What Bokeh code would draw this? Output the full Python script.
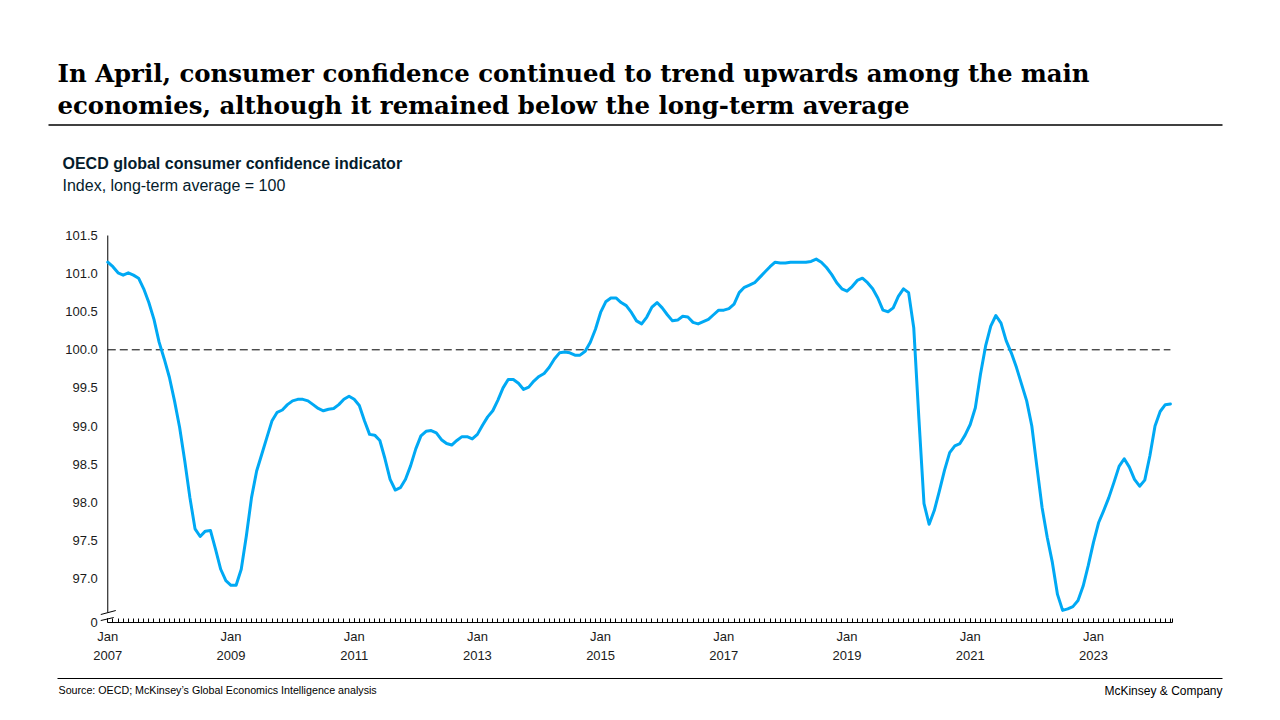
from bokeh.plotting import figure
from bokeh.models import Range1d, FixedTicker, NumeralTickFormatter
from bokeh.embed import file_html
from bokeh.resources import INLINE
from bokeh.core.properties import value

# ---------------- data ----------------
title_lines = [
    "In April, consumer confidence continued to trend upwards among the main",
    "economies, although it remained below the long-term average",
]
subtitle = "OECD global consumer confidence indicator"
unit_text = "Index,  long-term  average = 100"
source_text = "Source: OECD;  McKinsey\u2019s Global Economics Intelligence analysis"
brand_text = "McKinsey & Company"

start_year = 2007  # monthly, Jan 2007 .. Apr 2024
cci = [
    101.15, 101.09, 101.01, 100.98, 101.01, 100.98, 100.94, 100.80, 100.62, 100.40,
    100.10, 99.88, 99.64, 99.33, 98.98, 98.54, 98.06, 97.65, 97.55, 97.62,
    97.63, 97.38, 97.12, 96.97, 96.91, 96.91, 97.12, 97.56, 98.06, 98.41,
    98.63, 98.85, 99.07, 99.18, 99.21, 99.28, 99.33, 99.35, 99.35, 99.33,
    99.28, 99.23, 99.20, 99.22, 99.23, 99.28, 99.35, 99.39, 99.35, 99.27,
    99.07, 98.89, 98.88, 98.81, 98.57, 98.30, 98.16, 98.19, 98.30, 98.48,
    98.70, 98.87, 98.93, 98.94, 98.91, 98.82, 98.77, 98.75, 98.81, 98.86,
    98.86, 98.83, 98.89, 99.01, 99.12, 99.20, 99.34, 99.50, 99.61, 99.61,
    99.56, 99.48, 99.51, 99.59, 99.65, 99.69, 99.77, 99.88, 99.96, 99.97,
    99.96, 99.93, 99.93, 99.98, 100.10, 100.27, 100.49, 100.63, 100.68, 100.68,
    100.62, 100.58, 100.49, 100.38, 100.34, 100.43, 100.56, 100.62, 100.55, 100.46,
    100.38, 100.39, 100.44, 100.43, 100.36, 100.34, 100.37, 100.40, 100.46, 100.52,
    100.52, 100.54, 100.60, 100.75, 100.82, 100.85, 100.88, 100.95, 101.02, 101.09,
    101.15, 101.14, 101.14, 101.15, 101.15, 101.15, 101.15, 101.16, 101.19, 101.15,
    101.08, 100.99, 100.88, 100.80, 100.77, 100.83, 100.91, 100.94, 100.88, 100.80,
    100.68, 100.52, 100.50, 100.55, 100.70, 100.80, 100.75, 100.29, 99.10, 97.98,
    97.71, 97.89, 98.15, 98.42, 98.65, 98.74, 98.77, 98.88, 99.02, 99.24,
    99.68, 100.05, 100.31, 100.45, 100.35, 100.12, 99.96, 99.77, 99.55, 99.33,
    99.00, 98.46, 97.93, 97.54, 97.21, 96.79, 96.58, 96.60, 96.63, 96.71,
    96.90, 97.17, 97.47, 97.73, 97.89, 98.06, 98.26, 98.47, 98.57, 98.46,
    98.30, 98.21, 98.29, 98.61, 99.00, 99.19, 99.28, 99.29,
]
months = list(range(len(cci)))
label_years = [2007, 2009, 2011, 2013, 2015, 2017, 2019, 2021, 2023]
y_ticks = [97.0, 97.5, 98.0, 98.5, 99.0, 99.5, 100.0, 100.5, 101.0, 101.5]
long_term_avg = 100.0

# ---------------- layout / styles ----------------
W, H = 1264, 704
PX_MONTH0 = 107.27      # canvas x of the first month
PPM = 5.1336            # pixels per month
PX_TOP = 235.0          # canvas y of 101.5
PPU = 76.2              # pixels per index point
Y_TOP = 101.5
AXIS_PX = 622.0         # canvas y of the (broken) baseline
LINE_BLUE = "#00A9F4"
NAVY = "#051C2C"
SANS = "Liberation Sans"
SERIF = "DejaVu Serif"

X0 = -PX_MONTH0 / PPM
X1 = X0 + W / PPM
YR_TOP = Y_TOP + PX_TOP / PPU
YR_BOT = YR_TOP - H / PPU
BASE = round(Y_TOP - (AXIS_PX - PX_TOP) / PPU, 3)
X_END = months[-1] + 0.4   # right end of the time axis


def dx(px):
    return X0 + px / PPM


def dy(py):
    return YR_TOP - py / PPU


p = figure(width=W, height=H, x_range=Range1d(X0, X1), y_range=Range1d(YR_BOT, YR_TOP),
           toolbar_location=None, output_backend="svg", min_border=0,
           outline_line_color=None)
p.grid.visible = False

# x axis: fixed on the baseline, monthly minor ticks, labels every two years
xa = p.xaxis[0]
xa.fixed_location = BASE
major = [(y - start_year) * 12 for y in label_years]
xa.ticker = FixedTicker(ticks=major, minor_ticks=months + [X_END])
xa.major_label_overrides = {m: f"Jan\n{y}" for m, y in zip(major, label_years)}
xa.axis_line_color = None
xa.major_tick_in = 4
xa.major_tick_out = 0
xa.minor_tick_in = 4
xa.minor_tick_out = 0
xa.major_tick_line_color = "#000000"
xa.minor_tick_line_color = "#000000"
xa.major_label_standoff = 6
xa.major_label_text_font = SANS
xa.major_label_text_font_size = "13px"
xa.major_label_text_color = "#1a1a1a"
xa.major_label_text_line_height = 1.27

# y axis: fixed at the first month, broken baseline labelled 0
ya = p.yaxis[0]
ya.fixed_location = 0
ya.ticker = FixedTicker(ticks=[BASE] + y_ticks, minor_ticks=[])
ya.formatter = NumeralTickFormatter(format="0.0")
ya.major_label_overrides = {BASE: "0"}
ya.axis_line_color = None
ya.major_tick_line_color = None
ya.minor_tick_line_color = None
ya.major_tick_in = 0
ya.major_tick_out = 0
ya.major_label_standoff = 10
ya.major_label_text_font = SANS
ya.major_label_text_font_size = "13px"
ya.major_label_text_color = "#1a1a1a"

# axis lines (with the axis-break marks)
py1 = 1 / PPU
pm1 = 1 / PPM
break_top = BASE + 10 * py1
p.segment(x0=[0], y0=[break_top], x1=[0], y1=[Y_TOP], line_color="#000000", line_width=1)
p.segment(x0=[0], y0=[BASE], x1=[X_END], y1=[BASE], line_color="#000000", line_width=1)
p.segment(x0=[-7 * pm1, -7 * pm1], y0=[BASE + 8 * py1, BASE + 2 * py1],
          x1=[8 * pm1, 6 * pm1], y1=[BASE + 12 * py1, BASE + 5 * py1],
          line_color="#000000", line_width=1)

# long-term average reference line
p.segment(x0=[0], y0=[long_term_avg], x1=[months[-1]], y1=[long_term_avg],
          line_color="#000000", line_width=1, line_dash="8 4")

p.line(x=months, y=cci, line_color=LINE_BLUE, line_width=3, line_join="round", line_cap="round")


# ---------------- header / footer texts and rules ----------------
def add_text(px, py, text, size, font=SANS, style="normal", color="#000000", align="left"):
    p.text(x=[dx(px)], y=[dy(py)], text=[text], text_font=value(font), text_font_style=style,
           text_font_size=size, text_color=color, text_align=align, text_baseline="middle")


def add_rule(px0, px1, py, width):
    p.segment(x0=[dx(px0)], y0=[dy(py)], x1=[dx(px1)], y1=[dy(py)],
              line_color="#000000", line_width=width)


add_text(57, 72.5, title_lines[0], "24.4px", font=SERIF, style="bold")
add_text(57, 104.5, title_lines[1], "24.4px", font=SERIF, style="bold")
add_rule(48, 1222, 124.5, 1.5)
add_text(62, 163, subtitle, "16px", style="bold", color=NAVY)
add_text(62, 185, unit_text, "16px", color=NAVY)
add_rule(57, 1222, 678, 1)
add_text(58, 689, source_text, "10.7px")
add_text(1222, 690, brand_text, "12px", align="right")

open("out.html", "w").write(file_html(p, INLINE))
